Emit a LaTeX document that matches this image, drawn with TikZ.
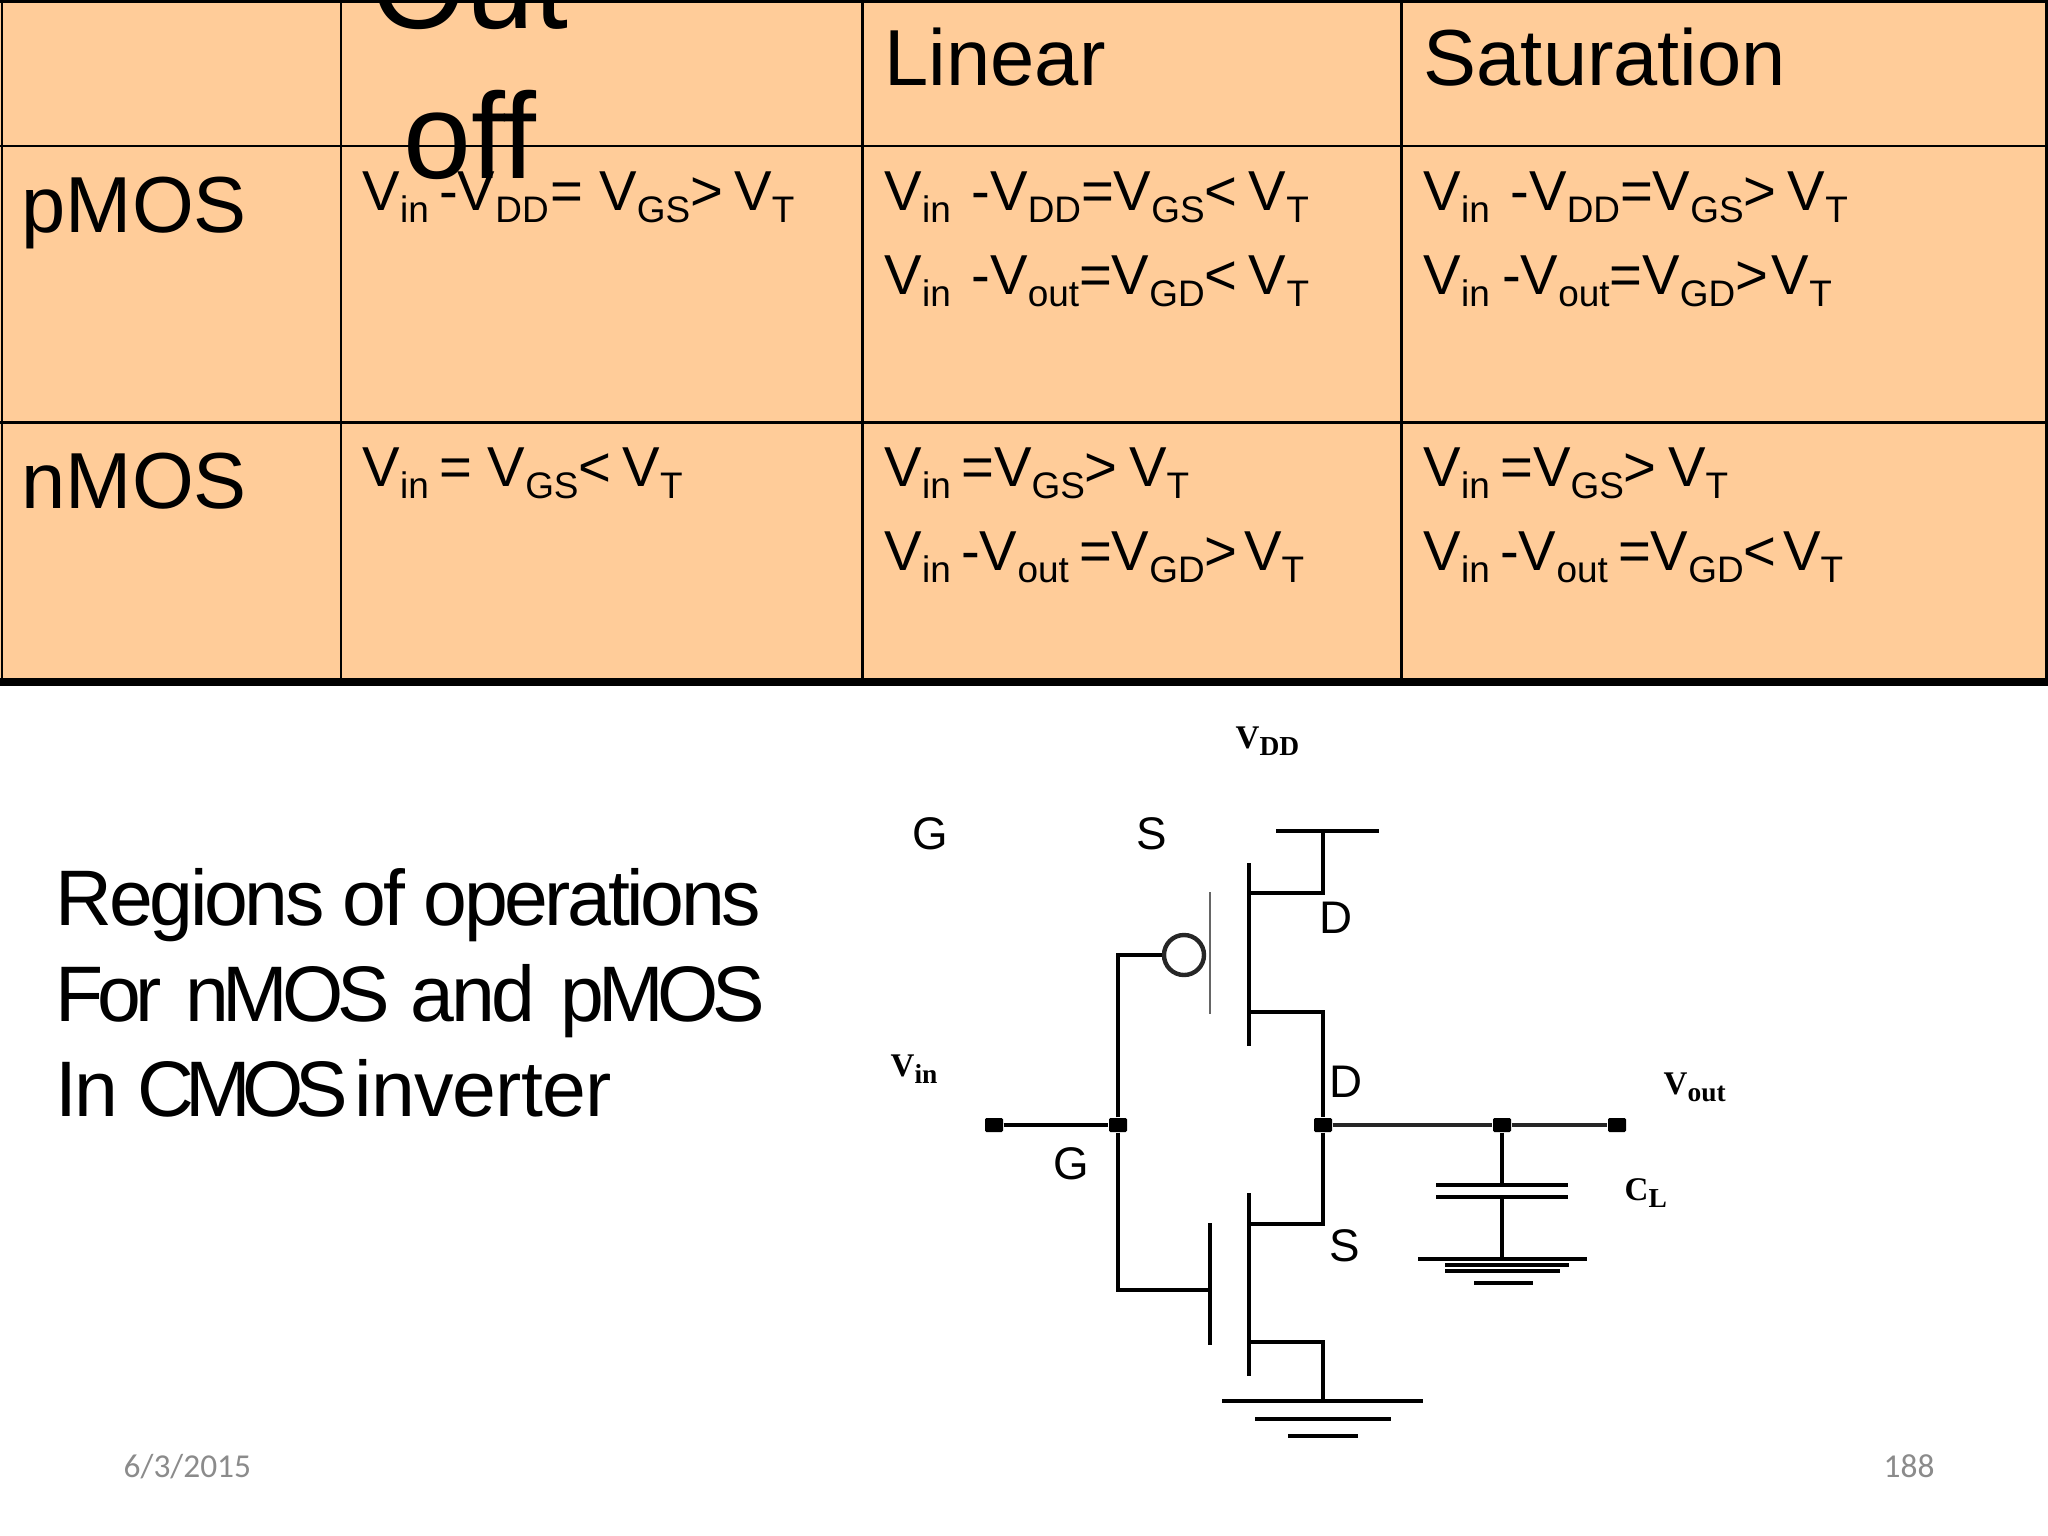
\documentclass[tikz,border=0pt]{standalone}
\usepackage{fontspec}
\setmainfont{Liberation Sans}
\newfontfamily\notefont[LetterSpace=-4.3]{Liberation Sans}
\newfontfamily\notetight[LetterSpace=-8]{Liberation Sans}
\newfontfamily\notetighter[LetterSpace=-11]{Liberation Sans}
\newfontfamily\notewide[LetterSpace=-1]{Liberation Sans}
\newfontfamily\serifbold[BoldFont={Liberation Serif Bold}]{Liberation Serif}
\newfontfamily\datefont{Carlito}
\definecolor{cellfill}{HTML}{FFCC99}
\definecolor{footgray}{HTML}{8B8B8B}
% V with a subscript, for the table and for the circuit
\newcommand{\cellV}[1]{V\raisebox{-3.5pt}{\fontsize{10.5}{12}\selectfont #1}}
\newcommand{\subgap}{\hspace{3.2pt}}
\newcommand{\partV}[1]{{\serifbold\bfseries\fontsize{9.4}{11}\selectfont V\raisebox{-2pt}{\fontsize{7.8}{9}\selectfont #1}}}
\tikzset{
  gridline/.style={line width=0.85pt},
  topline/.style={line width=1pt},
  edgeline/.style={line width=2pt},
  wire/.style={line width=1.25pt},
  thinwire/.style={line width=1pt,black!85},
  gatebar/.style={line width=0.8pt,black!60},
  ngatebar/.style={line width=0.9pt},
  junction/.style={fill=black,inner sep=0pt,minimum width=0.18cm,minimum height=0.14cm,rounded corners=0.4pt},
  bubble/.style={circle,draw,line width=1.25pt,black!85,inner sep=0pt,minimum size=0.4cm},
  headtext/.style={anchor=base west,inner sep=0pt,font=\fontsize{22.6}{24}\selectfont},
  celltext/.style={anchor=base west,inner sep=0pt,font=\fontsize{16}{18}\selectfont},
  pinlabel/.style={anchor=base west,inner sep=0pt,font=\fontsize{13}{15}\selectfont},
  partlabel/.style={anchor=base west,inner sep=0pt},
  notetext/.style={anchor=base west,inner sep=0pt,font=\fontsize{22.4}{24}\selectfont},
  foottext/.style={anchor=base west,inner sep=0pt,text=footgray,font=\datefont\fontsize{9.5}{11}\selectfont},
}
\begin{document}
\begin{tikzpicture}[x=0.01cm,y=-0.01cm]
  \useasboundingbox (0,0) rectangle (2048,1536);

  % table
  \fill[cellfill] (0,0) rectangle (2048,682);
  \draw[gridline] (341,0) -- (341,682);
  \draw[gridline] (862,0) -- (862,682);
  \draw[gridline] (1401,0) -- (1401,682);
  \draw[gridline] (0,146) -- (2048,146);
  \draw[gridline] (0,422) -- (2048,422);
  \draw[gridline] (2,0) -- (2,682);
  \draw[gridline] (2046,0) -- (2046,682);
  \draw[edgeline] (0,682) -- (2048,682);

  \node[align=center,inner sep=0pt,anchor=base,font=\fontsize{34.7}{42.4}\selectfont] (cutoff) at (470,178) {Out\\off};
  \draw[topline] (0,1) -- (2048,1);
  \node[headtext] (linear) at (884,85) {Linear};
  \node[headtext] (saturation) at (1423,85) {Saturation};
  \node[headtext] (pmos) at (21,232) {pMOS};
  \node[headtext] (nmos) at (21,508) {nMOS};

  \node[celltext] (pcut) at (362,210) {\cellV{in\ }-\cellV{DD}\hspace{0.6pt}= \cellV{GS}>\subgap\cellV{T}};
  \node[celltext] (plina) at (884,210) {\cellV{in\ \ }-\cellV{DD}=\cellV{GS}<\subgap\cellV{T}};
  \node[celltext] (plinb) at (884,294) {\cellV{in\ \ }-\cellV{out}=\cellV{GD}<\subgap\cellV{T}};
  \node[celltext] (psata) at (1423,210) {\cellV{in\ \ }-\cellV{DD}=\cellV{GS}>\subgap\cellV{T}};
  \node[celltext] (psatb) at (1423,294) {\cellV{in\ }\hspace{0.5pt}-\cellV{out}=\cellV{GD}>\hspace{1pt}\cellV{T}};
  \node[celltext] (ncut) at (362,486) {\cellV{in\ }= \cellV{GS}<\subgap\cellV{T}};
  \node[celltext] (nlina) at (884,486) {\cellV{in\ }=\cellV{GS}>\subgap\cellV{T}};
  \node[celltext] (nlinb) at (884,570) {\cellV{in\ }-\cellV{out\ }=\cellV{GD}>\hspace{1.8pt}\cellV{T}};
  \node[celltext] (nsata) at (1423,486) {\cellV{in\ }=\cellV{GS}>\subgap\cellV{T}};
  \node[celltext] (nsatb) at (1423,570) {\cellV{in\ }-\cellV{out\ }=\cellV{GD}<\hspace{1.8pt}\cellV{T}};

  % left note and footer
  \node[notetext] (notea) at (55,925) {\notefont Regions of operations};
  \node[notetext] (noteb) at (55,1021) {{\notetight For}\hspace{6.8pt}{\notetight nMOS}\hspace{6pt}{\notefont and}\hspace{7.2pt}{\notetight pMOS}};
  \node[notetext] (notec) at (55,1116) {{\notefont In}\hspace{5.6pt}{\notetighter CMOS}\hspace{1.8pt}{\notewide inverter}};
  \node[foottext] (datestamp) at (123,1477) {6/3/2015};
  \node[foottext] (pageno) at (1883,1477) {188};

  % circuit points
  \node[junction] (vinjunc) at (994,1125) {};
  \node[junction] (gatejunc) at (1118,1125) {};
  \node[junction] (outjunc) at (1323,1125) {};
  \node[junction] (capjunc) at (1502,1125) {};
  \node[junction] (voutjunc) at (1617,1125) {};
  \node[bubble] (gatebubble) at (1184,955) {};
  \coordinate (railleft) at (1276,831);
  \coordinate (railright) at (1379,831);
  \coordinate (railtap) at (1323,831);
  \coordinate (psrc) at (1249,893);
  \coordinate (pdrn) at (1249,1012);
  \coordinate (nsrc) at (1249,1224);
  \coordinate (nbody) at (1249,1342);
  \coordinate (ngate) at (1210,1290);
  \coordinate (gndtap) at (1323,1401);
  \coordinate (captop) at (1502,1185);
  \coordinate (capbot) at (1502,1197);
  \coordinate (capgnd) at (1502,1259);

  % pMOS
  \draw[wire] (railleft) -- (railright);
  \draw[wire] (railtap) |- (psrc);
  \draw[wire] (1249,863) -- (1249,1046);
  \draw[gatebar] (1210,892) -- (1210,1014);
  \draw[wire] (gatejunc) |- (gatebubble);
  \draw[wire] (pdrn) -| (outjunc);

  % nMOS
  \draw[wire] (gatejunc) |- (ngate);
  \draw[ngatebar] (1210,1223) -- (1210,1345);
  \draw[wire] (1249,1193) -- (1249,1376);
  \draw[wire] (outjunc) |- (nsrc);
  \draw[wire] (nbody) -| (gndtap);
  \draw[wire] (1222,1401) -- (1423,1401);
  \draw[wire] (1255,1419) -- (1391,1419);
  \draw[wire] (1288,1436) -- (1358,1436);

  % input, output, load
  \draw[wire] (vinjunc) -- (gatejunc);
  \draw[thinwire] (outjunc) -- (capjunc);
  \draw[thinwire] (capjunc) -- (voutjunc);
  \draw[wire] (capjunc) -- (captop);
  \draw[wire] (1436,1185) -- (1568,1185);
  \draw[wire] (1436,1197) -- (1568,1197);
  \draw[wire] (capbot) -- (capgnd);
  \draw[wire] (1418,1259) -- (1587,1259);
  \draw[wire] (1445,1265) -- (1569,1265);
  \draw[wire] (1445,1271) -- (1560,1271);
  \draw[wire] (1474,1283) -- (1533,1283);

  % circuit labels
  \node[pinlabel] (gtop) at (912,849) {G};
  \node[pinlabel] (stop) at (1136,849) {S};
  \node[pinlabel] (dtop) at (1319,933) {D};
  \node[pinlabel] (dbot) at (1329,1097) {D};
  \node[pinlabel] (gbot) at (1053,1179) {G};
  \node[pinlabel] (sbot) at (1329,1261) {S};
  \node[partlabel] (vddlabel) at (1235,748) {\partV{DD}};
  \node[partlabel] (vinlabel) at (890,1076) {\partV{in}};
  \node[partlabel] (voutlabel) at (1663,1094) {\partV{out}};
  \node[partlabel] (cllabel) at (1624,1200) {{\serifbold\bfseries\fontsize{9.4}{11}\selectfont C\raisebox{-2pt}{\fontsize{7.8}{9}\selectfont L}}};
\end{tikzpicture}
\end{document}
